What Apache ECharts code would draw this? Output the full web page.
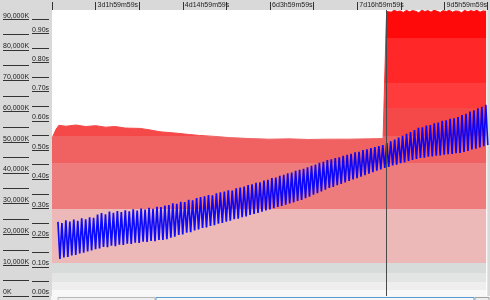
<!DOCTYPE html>
<html>
<head>
<meta charset="utf-8">
<script src="https://cdn.jsdelivr.net/npm/echarts@6/dist/echarts.min.js"></script>
<style>
  html, body { margin: 0; padding: 0; background: #d9d9d9; }
  #chart { width: 490px; height: 300px; }
</style>
</head>
<body>
<div id="chart"></div>
<script>
// ---------------- DATA ----------------
// x values are hours after the first tick (2d7h29m59s)
const xOriginSeconds = 199799;            // 2d7h29m59s
const xTickInterval = 18.5;               // hours between ticks
const xLabelValues = [18.5, 55.5, 92.5, 129.5, 166.5];

const memTickValues  = [0,5000,10000,15000,20000,25000,30000,35000,40000,45000,50000,55000,60000,65000,70000,75000,80000,85000,90000];
const memLabelValues = [0,10000,20000,30000,40000,50000,60000,70000,80000,90000];
const secTickValues  = [0,0.05,0.1,0.15,0.2,0.25,0.3,0.35,0.4,0.45,0.5,0.55,0.6,0.65,0.7,0.75,0.8,0.85,0.9,0.95];
const secLabelValues = [0,0.1,0.2,0.3,0.4,0.5,0.6,0.7,0.8,0.9];

// memory series (K)
const memTimes = [0, 1.7, 2.9, 5.9, 10.1, 14.3, 18.5, 22.7, 26.9, 31.1, 37.4, 41.6, 45.8, 52.1, 58.4, 62.6, 69.0, 75.3, 83.7, 92.1, 100.5, 108.9, 117.3, 125.7, 134.1, 140.4, 140.9,
  141.9, 142.5, 143.8, 145.1, 146.4, 147.7, 149.0, 150.3, 151.6, 152.9, 154.2, 155.5, 156.8, 158.1, 159.4, 160.7, 162.0, 163.3, 164.6, 165.9, 167.2, 168.5, 169.8, 171.1, 172.4, 173.7, 175.0, 176.3, 177.6, 178.9, 180.2, 181.5, 182.8, 184.1, 184.6];
const memValues = [51300, 54200, 55500, 55200, 55600, 55100, 55400, 54900, 55100, 54600, 54500, 54000, 53400, 53000, 52500, 52200, 51900, 51500, 51200, 51000, 51100, 50900, 51000, 51000, 51100, 51200, 51200,
  92500, 92800, 92300, 92900, 92500, 92700, 92200, 92900, 92400, 92800, 92600, 92100, 92900, 92500, 92800, 92300, 92900, 92600, 92200, 92800, 92500, 92900, 92300, 92700, 92600, 92100, 92900, 92400, 92800, 92500, 92900, 92300, 92700, 92600];

// response time series (s): one high and one low per cycle
const respStart = 2.52;   // hours
const respStep  = 1.68;   // hours per cycle
const respHigh = [
  .254,.250,.259,.255,.262,.258,.266,.263,.270,.268,.279,.284,
  .280,.289,.285,.291,.288,.294,.290,.297,.293,.300,.296,.302,.299,.306,.305,
  .310,.312,.318,.316,.323,.322,.330,.328,.336,.339,
  .342,.346,.345,.352,.355,.358,.362,.361,.369,.372,.375,.380,
  .383,.388,.390,.396,.398,.404,.406,.412,.415,.420,.423,.429,.432,
  .436,.441,.446,.450,.456,.460,.466,
  .468,.473,.475,.480,.484,.487,.492,.494,.500,.503,.507,.510,.514,.517,
  .524,.530,.536,.543,.549,.556,.562,.569,.576,
  .578,.584,.586,.592,.594,.600,.602,.607,.609,.613,
  .620,.624,.632,.636,.643,.648,.655];
const respLow = [
  .127,.132,.134,.139,.141,.146,.148,.153,.156,.160,.163,.168,
  .167,.172,.171,.176,.175,.179,.178,.183,.182,.186,.185,.189,.188,.192,.192,
  .195,.200,.203,.209,.211,.217,.219,.225,.228,.233,
  .235,.240,.243,.248,.250,.255,.258,.263,.265,.270,.273,.278,
  .281,.285,.289,.293,.297,.301,.305,.309,.313,.317,.321,.326,.329,
  .335,.340,.347,.352,.358,.364,.370,
  .374,.380,.384,.389,.394,.399,.404,.409,.414,.419,.424,.429,.434,.439,
  .442,.447,.450,.455,.458,.463,.466,.470,.473,
  .474,.477,.478,.481,.482,.484,.486,.487,.489,.490,
  .494,.497,.502,.505,.509,.513,.517];

const markerTime = 141.7;   // hours

// ---------------- STYLE ----------------
const bandEdges  = [0, 1950, 4550, 7600, 10700, 28300, 43100, 51900, 61100, 69400, 84000, 200000];
const bandColors = ['#f8f8f8','#eeeeee','#e3e5e4','#d7dbda','#ecb8b8','#ef7c7c','#f06262','#f54848','#ff3b3b','#ff2727','#ff0a0a'];
const FONT = 'Liberation Sans';

// ---------------- BUILD ----------------
const memData = memTimes.map((t, i) => [t, memValues[i]]);
const respData = [];
respHigh.forEach((h, i) => {
  const t = respStart + i * respStep;
  respData.push([t, h]);
  respData.push([t + respStep / 2, respLow[i]]);
});
const pieces = bandColors.map((c, i) => ({ gte: bandEdges[i], lt: bandEdges[i + 1], color: c }));

function fmtTime(v) {
  let s = Math.round(xOriginSeconds + v * 3600);
  const d = Math.floor(s / 86400); s -= d * 86400;
  const h = Math.floor(s / 3600); s -= h * 3600;
  const m = Math.floor(s / 60); s -= m * 60;
  return d + 'd' + h + 'h' + m + 'm' + s + 's';
}

const chart = echarts.init(document.getElementById('chart'), null, { renderer: 'canvas' });
chart.setOption({
  animation: false,
  backgroundColor: '#d9d9d9',
  grid: { left: 51, right: 0, top: 10, bottom: 4, show: true, backgroundColor: '#ffffff', borderWidth: 0, containLabel: false },
  visualMap: { show: false, type: 'piecewise', seriesIndex: 0, dimension: 1, pieces: pieces },
  xAxis: {
    type: 'value', position: 'top', min: 0, max: 184.6, interval: xTickInterval,
    axisLine: { show: false, onZero: false },
    splitLine: { show: false },
    axisTick: { show: true, length: 8, inside: false, lineStyle: { color: '#333', width: 1 } },
    axisLabel: {
      show: true, customValues: xLabelValues, formatter: fmtTime, align: 'left', verticalAlign: 'bottom',
      margin: 1, padding: [0, 0, 0, 2], fontSize: 7, fontFamily: FONT, color: '#222', hideOverlap: false
    }
  },
  yAxis: [
    {
      type: 'value', position: 'left', offset: 23, min: 0, max: 93000,
      axisLine: { show: false, onZero: false }, splitLine: { show: false },
      axisTick: { show: true, customValues: memTickValues, length: 26, lineStyle: { color: '#333', width: 1 } },
      axisLabel: {
        customValues: memLabelValues, formatter: v => v.toLocaleString('en-US') + 'K',
        align: 'left', verticalAlign: 'bottom', margin: 26, fontSize: 7, fontFamily: FONT, color: '#222'
      }
    },
    {
      type: 'value', position: 'left', offset: 3, min: 0, max: 0.98,
      axisLine: { show: false, onZero: false }, splitLine: { show: false },
      axisTick: { show: true, customValues: secTickValues, length: 17, lineStyle: { color: '#333', width: 1 } },
      axisLabel: {
        customValues: secLabelValues, formatter: v => v.toFixed(2) + 's',
        align: 'left', verticalAlign: 'bottom', margin: 17, fontSize: 7, fontFamily: FONT, color: '#222'
      }
    }
  ],
  graphic: [
    { type: 'rect', shape: { x: 51, y: 296, width: 439, height: 4 }, style: { fill: '#f6f6f6' }, z: 100 },
    { type: 'rect', shape: { x: 58, y: 297.5, width: 97, height: 3 }, style: { fill: '#eeeeee', stroke: '#b8b8b8', lineWidth: 1 }, z: 101 },
    { type: 'rect', shape: { x: 156, y: 297.5, width: 318, height: 3 }, style: { fill: '#f8f8f8', stroke: '#5b9bd5', lineWidth: 1 }, z: 101 },
    { type: 'rect', shape: { x: 475, y: 297.5, width: 14, height: 3 }, style: { fill: '#eeeeee', stroke: '#a0a0a0', lineWidth: 1 }, z: 101 }
  ],
  series: [
    {
      name: 'Memory', type: 'line', xAxisIndex: 0, yAxisIndex: 0, data: memData,
      symbol: 'none', smooth: false, lineStyle: { width: 1 }, areaStyle: { opacity: 1 }, z: 2
    },
    {
      name: 'Response', type: 'line', xAxisIndex: 0, yAxisIndex: 1, data: respData,
      symbol: 'none', smooth: false, clip: true,
      lineStyle: { color: '#0000ff', width: 1.7, opacity: 0.95 }, itemStyle: { color: '#0000ff' }, z: 3,
      markLine: {
        silent: true, symbol: 'none', label: { show: false },
        lineStyle: { color: '#4a4a4a', width: 1, type: 'solid' },
        data: [{ xAxis: markerTime }]
      }
    }
  ]
});
</script>
</body>
</html>
